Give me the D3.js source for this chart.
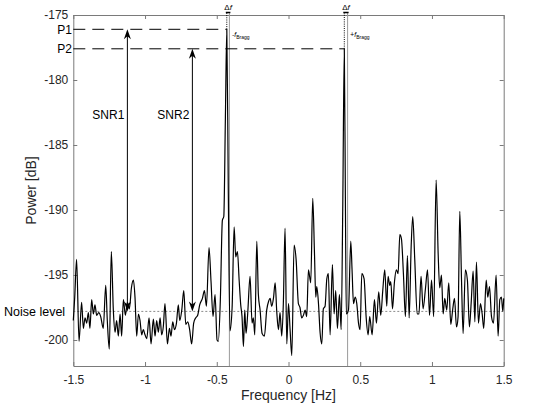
<!DOCTYPE html>
<html lang="en">
<head>
<meta charset="utf-8" />
<title>Power spectrum</title>
<script src="https://cdn.jsdelivr.net/npm/d3@7"></script>
<style>
  body { margin: 0; background: #fff; }
  text { font-family: "Liberation Sans", Arial, Helvetica, sans-serif; }
</style>
</head>
<body>
<script>
  // DATA
  var freqHz = [
    -1.500,-1.490,-1.477,-1.460,-1.442,-1.430,-1.418,-1.407,-1.395,-1.384,
    -1.372,-1.360,-1.349,-1.337,-1.323,-1.309,-1.291,-1.274,-1.263,-1.249,
    -1.235,-1.221,-1.209,-1.198,-1.186,-1.174,-1.163,-1.151,-1.137,-1.123,
    -1.109,-1.095,-1.081,-1.070,-1.058,-1.046,-1.035,-1.023,-1.012,-1.000,
    -0.988,-0.972,-0.958,-0.942,-0.930,-0.919,-0.907,-0.895,-0.884,-0.872,
    -0.861,-0.844,-0.830,-0.819,-0.807,-0.795,-0.781,-0.768,-0.758,-0.744,
    -0.730,-0.716,-0.702,-0.689,-0.675,-0.661,-0.647,-0.633,-0.619,-0.600,
    -0.586,-0.572,-0.554,-0.540,-0.526,-0.512,-0.498,-0.489,-0.475,-0.461,
    -0.451,-0.440,-0.430,-0.420,-0.408,-0.393,-0.379,-0.368,-0.356,-0.344,
    -0.333,-0.324,-0.314,-0.305,-0.296,-0.284,-0.268,-0.254,-0.245,-0.235,
    -0.221,-0.210,-0.198,-0.184,-0.168,-0.152,-0.138,-0.128,-0.117,-0.105,
    -0.093,-0.082,-0.070,-0.059,-0.047,-0.036,-0.024,-0.012,0.000,0.011,
    0.023,0.039,0.053,0.069,0.080,0.092,0.104,0.116,0.127,0.139,
    0.155,0.169,0.181,0.190,0.197,0.209,0.220,0.232,0.243,0.255,
    0.267,0.278,0.290,0.306,0.318,0.329,0.341,0.355,0.367,0.378,
    0.389,0.397,0.403,0.418,0.434,0.443,0.453,0.465,0.476,0.488,
    0.499,0.511,0.527,0.541,0.555,0.566,0.583,0.599,0.613,0.629,
    0.643,0.657,0.671,0.685,0.694,0.706,0.713,0.725,0.738,0.752,
    0.764,0.776,0.787,0.801,0.815,0.829,0.841,0.855,0.866,0.880,
    0.897,0.909,0.924,0.938,0.955,0.969,0.983,0.997,1.012,1.029,
    1.043,1.054,1.066,1.078,1.089,1.103,1.117,1.131,1.145,1.157,
    1.171,1.182,1.194,1.206,1.217,1.233,1.247,1.261,1.273,1.287,
    1.299,1.310,1.324,1.338,1.350,1.361,1.378,1.389,1.401,1.415,
    1.429,1.447,1.461,1.473,1.484,1.494,1.500
  ];
  var powerDb = [
    -198.5,-196.7,-193.8,-200.1,-197.1,-199.1,-198.3,-198.7,-197.9,-199.1,
    -196.9,-198.0,-197.3,-198.1,-197.9,-198.2,-199.1,-195.8,-198.5,-200.7,
    -193.2,-197.7,-199.4,-198.5,-199.7,-198.0,-199.7,-196.9,-198.1,-197.1,
    -197.6,-196.0,-195.4,-196.7,-199.7,-198.0,-198.5,-199.6,-199.2,-199.6,
    -199.9,-198.3,-200.3,-198.4,-199.7,-198.5,-199.4,-198.3,-199.6,-198.9,
    -197.2,-200.3,-199.1,-199.7,-198.6,-199.2,-198.7,-197.3,-198.5,-197.7,
    -196.2,-198.8,-198.6,-199.2,-200.3,-198.7,-198.3,-198.1,-197.3,-196.8,
    -196.2,-197.4,-192.9,-195.5,-198.2,-196.5,-200.0,-200.1,-196.9,-190.8,
    -190.5,-183.0,-176.1,-188.0,-199.3,-197.5,-191.3,-193.6,-193.2,-195.4,
    -197.3,-198.2,-200.5,-197.7,-199.5,-197.9,-195.1,-198.7,-198.3,-199.6,
    -192.4,-196.5,-197.7,-199.5,-199.7,-197.7,-197.0,-196.8,-197.4,-196.8,
    -195.6,-197.8,-199.2,-197.9,-199.7,-197.2,-191.4,-200.3,-197.2,-199.2,
    -201.2,-192.7,-193.8,-197.2,-197.5,-198.3,-198.1,-197.7,-198.2,-194.6,
    -195.6,-189.1,-193.3,-196.7,-195.9,-197.2,-199.4,-200.3,-197.6,-197.4,
    -195.3,-194.9,-199.6,-194.2,-198.0,-196.2,-199.1,-196.5,-199.2,-190.0,
    -177.6,-190.0,-198.0,-197.7,-192.4,-194.6,-197.2,-196.7,-197.2,-198.7,
    -199.2,-194.9,-195.3,-198.2,-199.6,-198.2,-199.6,-196.9,-198.7,-196.3,
    -198.1,-196.2,-194.6,-197.4,-195.1,-195.8,-195.5,-197.6,-195.6,-194.6,
    -194.9,-191.9,-192.2,-194.9,-198.2,-193.5,-198.3,-192.8,-190.5,-193.8,
    -198.0,-198.0,-195.1,-197.6,-196.0,-194.6,-198.1,-195.4,-198.2,-187.7,
    -193.3,-196.0,-195.0,-198.0,-196.8,-197.7,-195.6,-198.8,-197.6,-196.8,
    -199.0,-198.2,-190.1,-195.4,-199.5,-194.6,-195.4,-199.0,-197.2,-194.7,
    -198.6,-194.0,-198.7,-197.2,-198.0,-199.1,-195.4,-196.7,-195.9,-198.2,
    -198.7,-195.0,-199.7,-196.9,-196.7,-197.8,-196.8
  ];
  var xTicks = [-1.5, -1, -0.5, 0, 0.5, 1, 1.5];
  var yTicks = [-200, -195, -190, -185, -180, -175];

  var noiseLevel  = -197.8;
  var peakLabels  = ["P1", "P2"];
  var peakLevels  = [-176.1, -177.6];
  var peakFreqs   = [-0.430, 0.389];
  var braggFreqs  = [-0.412, 0.412];
  var braggLabels = ["-f", "+f"];
  var snrLabels   = ["SNR1", "SNR2"];
  var snrFreqs    = [-1.123, -0.670];

  // CONFIG
  var width = 550, height = 409;
  var plotL = 73.3, plotR = 503.7, plotT = 15, plotB = 366;
  var axisGray = "#7a7a7a", textCol = "#262626";

  var x = d3.scaleLinear().domain([-1.5, 1.5]).range([plotL, plotR]);
  var y = d3.scaleLinear().domain([-202, -175]).range([plotB, plotT]);

  var svg = d3.select("body").append("svg")
      .attr("width", width)
      .attr("height", height);

  // axes, MATLAB style box with inward ticks
  var fmt = (d) => String(d);
  function styleAxis(g) {
    g.selectAll("path, line").attr("stroke", axisGray);
    g.selectAll("text").attr("fill", textCol).style("font-size", "12px")
      .style("font-family", '"Liberation Sans", Arial, sans-serif');
  }
  svg.append("g").attr("transform", `translate(0,${plotB})`)
    .call(d3.axisBottom(x).tickValues(xTicks).tickFormat(fmt).tickSize(-4).tickSizeOuter(0).tickPadding(9.5))
    .call(styleAxis);
  svg.append("g").attr("transform", `translate(0,${plotT})`)
    .call(d3.axisTop(x).tickValues(xTicks).tickFormat("").tickSize(-4).tickSizeOuter(0))
    .call(styleAxis);
  svg.append("g").attr("transform", `translate(${plotL},0)`)
    .call(d3.axisLeft(y).tickValues(yTicks).tickFormat(fmt).tickSize(-4).tickSizeOuter(0).tickPadding(5))
    .call(styleAxis);
  svg.append("g").attr("transform", `translate(${plotR},0)`)
    .call(d3.axisRight(y).tickValues(yTicks).tickFormat("").tickSize(-4).tickSizeOuter(0))
    .call(styleAxis);
  svg.selectAll(".domain").attr("stroke-width", 1);

  // axis titles
  svg.append("text")
    .attr("x", (plotL + plotR) / 2).attr("y", 400)
    .attr("text-anchor", "middle").attr("fill", textCol)
    .style("font-size", "14px")
    .text("Frequency [Hz]");
  svg.append("text")
    .attr("transform", `translate(36,${(plotT + plotB) / 2}) rotate(-90)`)
    .attr("text-anchor", "middle").attr("fill", textCol)
    .style("font-size", "14px")
    .text("Power [dB]");

  // noise level
  svg.append("line")
    .attr("x1", plotL).attr("x2", plotR)
    .attr("y1", y(noiseLevel)).attr("y2", y(noiseLevel))
    .attr("stroke", "#8a8a8a").attr("stroke-dasharray", "2,2");
  svg.append("text")
    .attr("x", 4).attr("y", y(noiseLevel)).attr("dy", "0.35em")
    .style("font-size", "12.5px").text("Noise level");

  // Bragg lines
  svg.selectAll(".bragg").data(braggFreqs).enter()
    .append("line").attr("class", "bragg")
    .attr("x1", (d) => x(d)).attr("x2", (d) => x(d))
    .attr("y1", plotB).attr("y2", plotT - 3)
    .attr("stroke", "#9a9a9a").attr("stroke-width", 1);

  // spectrum
  var line = d3.line()
    .x((d, i) => x(freqHz[i]))
    .y((d) => y(d))
    .curve(d3.curveMonotoneX);
  svg.append("path")
    .datum(powerDb)
    .attr("d", line)
    .attr("fill", "none")
    .attr("stroke", "#000")
    .attr("stroke-width", 1.2)
    .attr("stroke-linejoin", "round");

  // P1 / P2 dashed levels
  peakLevels.forEach(function (p, i) {
    svg.append("line")
      .attr("x1", plotL).attr("x2", x(peakFreqs[i]))
      .attr("y1", y(p)).attr("y2", y(p))
      .attr("stroke", "#000").attr("stroke-dasharray", "12,7");
    svg.append("text")
      .attr("x", 72).attr("y", y(p)).attr("dy", "0.35em")
      .attr("text-anchor", "end")
      .style("font-size", "12px").text(peakLabels[i]);

    // dotted line from peak up to the box, and delta f mark
    var px = x(peakFreqs[i]), bx = x(braggFreqs[i]);
    svg.append("line")
      .attr("x1", px).attr("x2", px)
      .attr("y1", y(p)).attr("y2", plotT - 3)
      .attr("stroke", "#000").attr("stroke-dasharray", "1,1.2");
    svg.append("line")
      .attr("x1", Math.min(px, bx) - 1).attr("x2", Math.max(px, bx) + 1)
      .attr("y1", plotT - 2.5).attr("y2", plotT - 2.5)
      .attr("stroke", "#000").attr("stroke-width", 1.5);
    var df = svg.append("text")
      .attr("x", (px + bx) / 2).attr("y", plotT - 5)
      .attr("text-anchor", "middle")
      .style("font-size", "8px");
    df.append("tspan").text("\u0394");
    df.append("tspan").style("font-style", "italic").text("f");

    // Bragg label
    var bl = svg.append("text")
      .attr("x", bx + 2.5).attr("y", 37)
      .style("font-size", "7px");
    bl.append("tspan").style("font-style", "italic").text(braggLabels[i]);
    bl.append("tspan").attr("dy", 2).style("font-size", "5px").text("Bragg");
  });

  // SNR arrows
  function head(px, py, dir) {
    // dir -1 points up, +1 points down
    return `M${px},${py}L${px - 3.5},${py - dir * 10}L${px},${py - dir * 7}L${px + 3.5},${py - dir * 10}Z`;
  }
  snrFreqs.forEach(function (f, i) {
    var sx = x(f), y0 = y(noiseLevel), y1 = y(peakLevels[i]);
    svg.append("line")
      .attr("x1", sx).attr("x2", sx)
      .attr("y1", y1 + 6).attr("y2", y0 - 6)
      .attr("stroke", "#000").attr("stroke-width", 1);
    svg.append("path").attr("d", head(sx, y1, -1)).attr("fill", "#000");
    svg.append("path").attr("d", head(sx, y0, 1)).attr("fill", "#000");
    svg.append("text")
      .attr("x", sx - 3).attr("y", 115).attr("dy", "0.35em")
      .attr("text-anchor", "end")
      .style("font-size", "12px").text(snrLabels[i]);
  });
</script>
</body>
</html>
